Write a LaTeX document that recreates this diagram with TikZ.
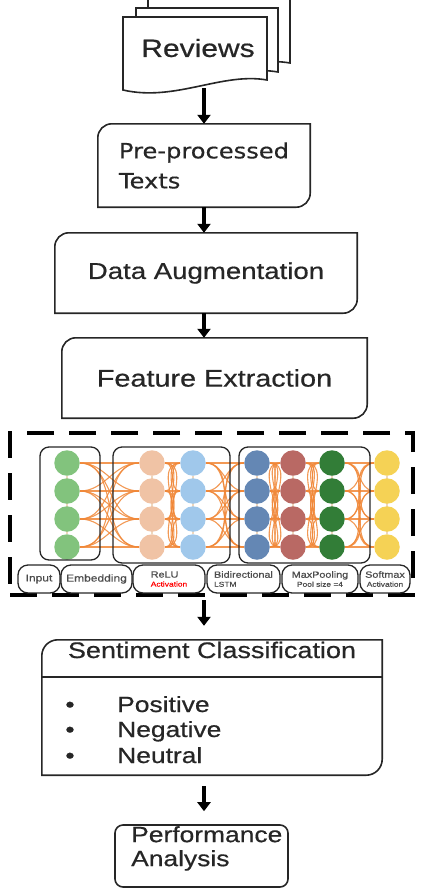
\documentclass[tikz,border=0pt]{standalone}
\usepackage{fontspec}
\setmainfont{Liberation Sans}[FakeStretch=1.2, FakeBold=0.6]
\newfontfamily\preproc{DejaVu Sans}[FakeStretch=1.15, FakeBold=0.4]
\usetikzlibrary{arrows.meta, positioning, calc, backgrounds}
\definecolor{inGreen}{RGB}{130, 195, 125}
\definecolor{reluPeach}{RGB}{240, 195, 165}
\definecolor{reluBlue}{RGB}{160, 200, 235}
\definecolor{lstmBlue}{RGB}{100, 135, 180}
\definecolor{lstmRose}{RGB}{185, 105, 100}
\definecolor{poolGreen}{RGB}{50, 125, 55}
\definecolor{softYellow}{RGB}{245, 210, 85}
\definecolor{edgeOrange}{RGB}{240, 135, 55}
\definecolor{colLine}{RGB}{238, 215, 190}

% box with rounded top-left and bottom-right corners
\newcommand{\cornerbox}[2][14pt]{%
  \draw[boxline] ($(#2.north west)+(0,-#1)$) arc[start angle=180, end angle=90, radius=#1]
    -- (#2.north east) -- ($(#2.south east)+(0,#1)$) arc[start angle=0, end angle=-90, radius=#1]
    -- (#2.south west) -- cycle;}

\begin{document}
\begin{tikzpicture}[x=1pt, y=1pt,
    boxline/.style={line width=1.6pt, draw=black!85},
    stage/.style={inner sep=0pt, text=black!85},
    flow/.style={line width=3.8pt, -{Triangle[width=13pt, length=9pt]}},
    doc/.style={line width=1.6pt, draw=black!85, fill=white},
    dashbox/.style={draw, line width=4pt, dash pattern=on 27pt off 15pt},
    group/.style={line width=1.3pt, rounded corners=9pt, draw=black!85},
    neuron/.style={circle, minimum size=25.5pt, inner sep=0pt},
    colline/.style={draw=colLine, line width=2pt},
    synapse/.style={draw=edgeOrange, line width=1.1pt, opacity=0.85},
    layerlbl/.style={draw=black!85, line width=1.3pt, rounded corners=10pt, minimum height=28pt,
      inner sep=1pt, align=center, text=black!70, font=\fontsize{9}{9}\selectfont}]

  \useasboundingbox (0,0) rectangle (424,-892);

  % Reviews
  \draw[doc] (148,1) -- (290,1) -- (290,-63) .. controls (245,-55) and (200,-85) .. (148,-73) -- cycle;
  \draw[doc] (136,-8) -- (278,-8) -- (278,-72) .. controls (233,-64) and (188,-94) .. (136,-82) -- cycle;
  \draw[doc] (123,-17) -- (267,-17) -- (267,-80) .. controls (222,-72) and (175,-102) .. (123,-90) -- cycle;
  \node[stage, font=\fontsize{25}{30}\selectfont] (reviews) at (198,-48) {Reviews};
  \coordinate (revbot) at (204,-88);

  % Stages
  \node[stage, minimum width=212pt, minimum height=83pt, align=left,
    font=\preproc\fontsize{21}{30}\selectfont] (pre) at (204,-165.5) {Pre-processed\\Texts};
  \cornerbox{pre}
  \node[stage, minimum width=302pt, minimum height=80pt, font=\fontsize{23}{28}\selectfont] (aug) at (206,-273) {Data Augmentation};
  \cornerbox{aug}
  \node[stage, minimum width=305pt, minimum height=80pt, font=\fontsize{24}{28}\selectfont] (feat) at (214.5,-378) {Feature Extraction};
  \cornerbox{feat}

  \draw[flow] (revbot) -- (pre.north);
  \draw[flow] (pre.south) -- (pre.south |- aug.north);
  \draw[flow] (pre.south |- aug.south) -- (pre.south |- feat.north);

  % Network
  \node[dashbox, minimum width=403pt, minimum height=162pt, inner sep=0pt] (net) at (211.5,-514) {};
  \foreach \layer/\px/\clr in {1/67/inGreen, 2/152/reluPeach, 3/193/reluBlue, 4/257/lstmBlue,
      5/293/lstmRose, 6/332/poolGreen, 7/387/softYellow}
    \foreach \row/\py in {1/463, 2/491, 3/519, 4/547}
      \node[neuron, fill=\clr] (n\layer\row) at (\px,-\py) {};
  \begin{scope}[on background layer]
    \foreach \layer in {1,...,7}
      \draw[colline] (n\layer1) -- (n\layer4);
    \foreach \src/\dst in {1/2, 2/3, 3/4, 4/5, 5/6, 6/7}
      \foreach \i in {1,...,4}
        \foreach \j in {1,...,4}
          \draw[synapse] (n\src\i) to[out=0, in=180] (n\dst\j);
  \end{scope}
  \draw[group] (40,-447) rectangle (100,-560);
  \draw[group] (113,-447) rectangle (230,-563);
  \draw[group] (239,-447) rectangle (370,-563);

  \node[layerlbl, minimum width=42pt, font=\fontsize{10}{10}\selectfont] (lInput) at (39,-579) {Input};
  \node[layerlbl, minimum width=71pt, font=\fontsize{10}{10}\selectfont] (lEmbed) at (96.5,-579) {Embedding};
  \node[layerlbl, minimum width=72pt, align=left] (lRelu) at (169,-579) {ReLU\\\textcolor{red}{\fontsize{7}{8}\selectfont Activation}};
  \node[layerlbl, minimum width=73pt, align=left] (lBilstm) at (243.5,-579) {Bidirectional\\{\fontsize{7}{8}\selectfont LSTM}};
  \node[layerlbl, minimum width=76pt] (lPool) at (320,-579) {MaxPooling\\{\fontsize{7}{8}\selectfont Pool size =4}};
  \node[layerlbl, minimum width=50pt] (lSoft) at (385,-579) {Softmax\\{\fontsize{7}{8}\selectfont Activation}};

  % Sentiment classification
  \node[minimum width=340pt, minimum height=135pt, inner sep=0pt] (sent) at (212,-707.5) {};
  \cornerbox[16pt]{sent}
  \draw[boxline] ($(sent.north west)+(0,-37pt)$) -- ($(sent.north east)+(0,-37pt)$);
  \node[stage, anchor=base, font=\fontsize{22.5}{26}\selectfont] (sentTitle) at (212,-658) {Sentiment Classification};
  \foreach \k/\lbl/\py in {1/Positive/712, 2/Negative/737, 3/Neutral/763} {
    \node[stage, anchor=base, font=\fontsize{22}{26}\selectfont] (bul\k) at (70,-\py) {\textbullet};
    \node[stage, anchor=base west, font=\fontsize{22}{26}\selectfont] (cls\k) at (117,-\py) {\lbl};
  }

  \draw[flow, shorten <=3pt, shorten >=14pt] (net.south -| pre.south) -- (sent.north -| pre.south);

  % Performance
  \node[boxline, draw, rounded corners=8pt, minimum width=173pt, minimum height=62pt, inner sep=0pt] (perf) at (201.5,-856) {};
  \node[stage, anchor=north west, align=left, font=\fontsize{22}{24}\selectfont] (perfText) at (131,-826) {Performance\\Analysis};
  \draw[flow, shorten <=11pt, shorten >=13pt] (sent.south -| pre.south) -- (perf.north -| pre.south);
\end{tikzpicture}
\end{document}
